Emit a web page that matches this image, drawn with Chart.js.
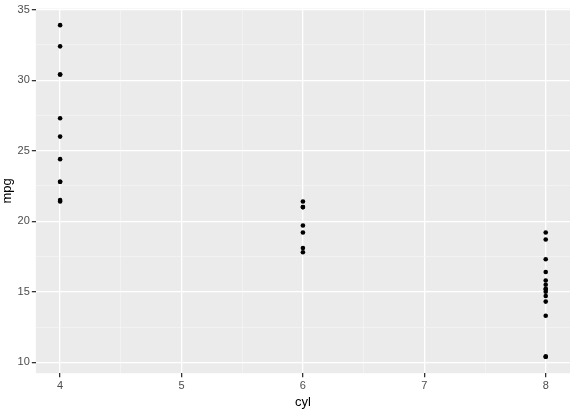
<!DOCTYPE html>
<html><head><script src="https://cdn.jsdelivr.net/npm/chart.js"></script>
<style>body{margin:0;background:#fff}#w{width:578px;height:412px}</style></head>
<body><div id="w"><canvas id="c"></canvas></div>
<script>
const cyl4=[22.8,24.4,22.8,32.4,30.4,33.9,21.5,27.3,26.0,30.4,21.4];
const cyl6=[21.0,21.0,21.4,18.1,19.2,17.8,19.7];
const cyl8=[18.7,14.3,16.4,17.3,15.2,10.4,10.4,14.7,15.5,15.2,13.3,19.2,15.8,15.0];
const xTicks=[4,5,6,7,8];
const yTicks=[10,15,20,25,30,35];
const pts=[...cyl4.map(v=>({x:4,y:v})),...cyl6.map(v=>({x:6,y:v})),...cyl8.map(v=>({x:8,y:v}))];
const bg={id:'bg',beforeDraw(c){const a=c.chartArea,x=c.ctx;x.save();x.fillStyle='#ebebeb';x.fillRect(a.left,a.top,a.right-a.left,a.bottom-a.top);x.restore();}};
function mk(major){const t=[];for(let i=0;i<major.length;i++){t.push({value:major[i],major:true});if(i<major.length-1)t.push({value:(major[i]+major[i+1])/2});}return t;}
const grid={color:c=>c.tick&&c.tick.major?'#ffffff':'#f7f7f7',lineWidth:c=>c.tick&&c.tick.major?1.3:0.6,tickLength:4,tickColor:c=>c.tick&&c.tick.major?'#333':'rgba(0,0,0,0)'};
const tk={color:'#4d4d4d',font:{family:'Liberation Sans',size:11},padding:2,autoSkip:false,maxRotation:0,callback:(v,i,t)=>t[i].major?String(v):''};
new Chart(document.getElementById('c'),{type:'scatter',data:{datasets:[{data:pts,backgroundColor:'#000',borderWidth:0,pointRadius:2.3}]},
options:{responsive:true,maintainAspectRatio:false,animation:false,layout:{padding:{top:1,right:8,left:0,bottom:0}},
plugins:{legend:{display:false},tooltip:{enabled:false}},
scales:{x:{min:3.8,max:8.2,afterBuildTicks:s=>{s.ticks=mk(xTicks)},grid:grid,border:{display:false},ticks:tk,
title:{display:true,text:'cyl',color:'#000',font:{family:'Liberation Sans',size:13},padding:{top:0,bottom:2}}},
y:{min:9.225,max:35.075,afterBuildTicks:s=>{s.ticks=mk(yTicks)},grid:grid,border:{display:false},ticks:tk,
title:{display:true,text:'mpg',color:'#000',font:{family:'Liberation Sans',size:13},padding:{top:0,bottom:0}}}}},plugins:[bg]});
</script></body></html>
